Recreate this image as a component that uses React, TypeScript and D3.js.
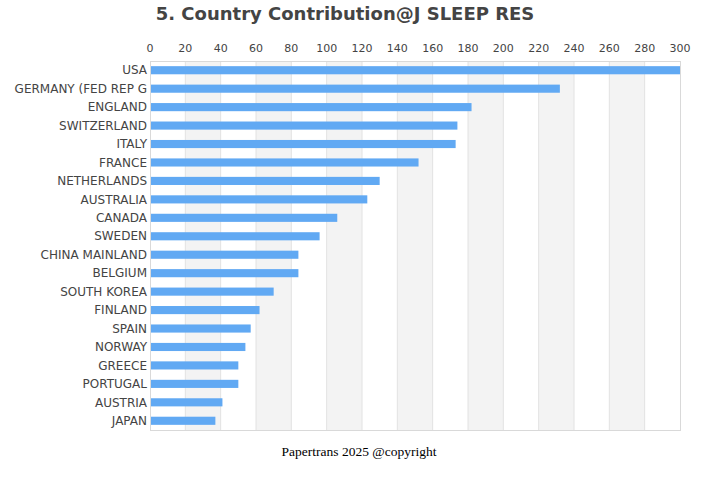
import React, { useRef, useEffect } from "react";
import * as d3 from "d3";

const countries = [
  "USA",
  "GERMANY (FED REP G",
  "ENGLAND",
  "SWITZERLAND",
  "ITALY",
  "FRANCE",
  "NETHERLANDS",
  "AUSTRALIA",
  "CANADA",
  "SWEDEN",
  "CHINA MAINLAND",
  "BELGIUM",
  "SOUTH KOREA",
  "FINLAND",
  "SPAIN",
  "NORWAY",
  "GREECE",
  "PORTUGAL",
  "AUSTRIA",
  "JAPAN",
];
const counts = [300, 232, 182, 174, 173, 152, 130, 123, 106, 96, 84, 84, 70, 62, 57, 54, 50, 50, 41, 37];
const xTicks = [0, 20, 40, 60, 80, 100, 120, 140, 160, 180, 200, 220, 240, 260, 280, 300];

const title = "5. Country Contribution@J SLEEP RES";
const footer = "Papertrans 2025 @copyright";

const App = () => {
  const svgRef = useRef<SVGSVGElement | null>(null);

  useEffect(() => {
    const svg = d3.select(svgRef.current);
    svg.selectAll("*").remove();

    const width = 720;
    const height = 480;
    const left = 150;
    const right = 680;
    const top = 61;
    const bottom = 430;
    const font = "'DejaVu Sans', Verdana, sans-serif";

    svg.attr("width", width).attr("height", height);

    const x = d3.scaleLinear().domain([0, 300]).range([left, right]);
    const y = d3.scaleBand().domain(countries).range([top, bottom]).paddingInner(0.56).paddingOuter(0.28);

    // alternating shaded columns
    const bands = d3.pairs(xTicks).filter((_, i) => i % 2 === 1);
    svg
      .append("g")
      .selectAll("rect")
      .data(bands)
      .enter()
      .append("rect")
      .attr("x", (d) => x(d[0]))
      .attr("y", top)
      .attr("width", (d) => x(d[1]) - x(d[0]))
      .attr("height", bottom - top)
      .attr("fill", "#f3f3f3");

    // vertical gridlines
    svg
      .append("g")
      .selectAll("line")
      .data(xTicks.slice(1, -1))
      .enter()
      .append("line")
      .attr("x1", (d) => x(d))
      .attr("x2", (d) => x(d))
      .attr("y1", top)
      .attr("y2", bottom)
      .attr("stroke", "#e2e2e2")
      .attr("stroke-width", 1);

    // plot frame
    svg
      .append("rect")
      .attr("x", left + 0.5)
      .attr("y", top + 0.5)
      .attr("width", right - left)
      .attr("height", bottom - top)
      .attr("fill", "none")
      .attr("stroke", "#d9d9d9");

    // bars
    svg
      .append("g")
      .selectAll("rect")
      .data(countries.map((c, i) => ({ c, v: counts[i] })))
      .enter()
      .append("rect")
      .attr("x", x(0) + 1)
      .attr("y", (d) => y(d.c) as number)
      .attr("width", (d) => Math.max(0, x(d.v) - x(0) - 1))
      .attr("height", y.bandwidth())
      .attr("fill", "#61a9f3");

    // top axis labels
    svg
      .append("g")
      .selectAll("text")
      .data(xTicks)
      .enter()
      .append("text")
      .attr("x", (d) => x(d))
      .attr("y", 52)
      .attr("text-anchor", "middle")
      .attr("fill", "#444")
      .style("font-family", font)
      .style("font-size", "11px")
      .text((d) => d);

    // category labels
    svg
      .append("g")
      .selectAll("text")
      .data(countries)
      .enter()
      .append("text")
      .attr("x", left - 3)
      .attr("y", (d) => (y(d) as number) + y.bandwidth() / 2)
      .attr("dy", "0.35em")
      .attr("text-anchor", "end")
      .attr("fill", "#444")
      .style("font-family", font)
      .style("font-size", "12px")
      .text((d) => d);

    svg
      .append("text")
      .attr("x", 345)
      .attr("y", 20)
      .attr("text-anchor", "middle")
      .attr("fill", "#444")
      .style("font-family", font)
      .style("font-size", "18px")
      .style("font-weight", "bold")
      .text(title);

    svg
      .append("text")
      .attr("x", 359)
      .attr("y", 456)
      .attr("text-anchor", "middle")
      .attr("fill", "#000")
      .style("font-family", "'Liberation Serif', 'Times New Roman', serif")
      .style("font-size", "13.5px")
      .text(footer);
  }, []);

  return (
    <svg
      ref={svgRef}
      style={{ position: "absolute", left: 0, top: 0, display: "block", background: "#fff" }}
    />
  );
};

export default App;
